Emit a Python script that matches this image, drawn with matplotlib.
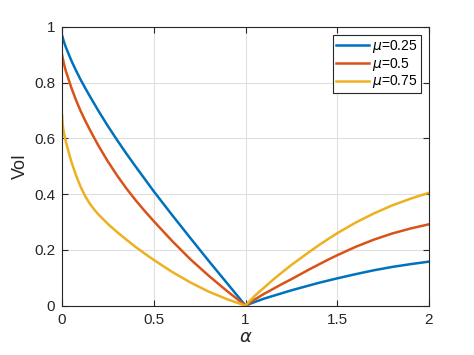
import matplotlib
matplotlib.use("Agg")
import matplotlib.pyplot as plt

# values (left branch: alpha in [0, 1], right branch: alpha in [1, 2])
alpha_left = [0.0, 0.0025, 0.005, 0.01, 0.02, 0.025, 0.03, 0.04, 0.05, 0.075, 0.1, 0.125, 0.15,
              0.175, 0.2, 0.25, 0.3, 0.35, 0.4, 0.45, 0.5, 0.6, 0.7, 0.8, 0.9, 1.0]
voi_025_left = [0.97, 0.964, 0.958, 0.947, 0.928, 0.92, 0.912, 0.896, 0.88, 0.845, 0.812, 0.782, 0.753,
                0.725, 0.697, 0.644, 0.594, 0.546, 0.5, 0.455, 0.41, 0.325, 0.242, 0.16, 0.08, 0.0]
voi_05_left = [0.90, 0.891, 0.884, 0.868, 0.843, 0.833, 0.823, 0.803, 0.783, 0.739, 0.70, 0.665, 0.633,
               0.602, 0.572, 0.517, 0.467, 0.421, 0.379, 0.34, 0.303, 0.232, 0.166, 0.107, 0.052, 0.0]
voi_075_left = [0.683, 0.655, 0.64, 0.62, 0.59, 0.577, 0.565, 0.541, 0.518, 0.469, 0.428, 0.394, 0.367,
                0.345, 0.326, 0.293, 0.264, 0.237, 0.211, 0.187, 0.164, 0.121, 0.083, 0.05, 0.023, 0.0]

alpha_right = [1.0, 1.025, 1.05, 1.075, 1.1, 1.15, 1.2, 1.25, 1.3, 1.35, 1.4, 1.45, 1.5,
               1.6, 1.7, 1.8, 1.9, 2.0]
voi_025_right = [0.0, 0.007, 0.013, 0.019, 0.025, 0.035, 0.045, 0.055, 0.064, 0.073, 0.082, 0.09, 0.098,
                 0.113, 0.127, 0.139, 0.149, 0.158]
voi_05_right = [0.0, 0.011, 0.022, 0.032, 0.042, 0.06, 0.078, 0.095, 0.113, 0.131, 0.148, 0.165, 0.181,
                0.211, 0.237, 0.259, 0.277, 0.292]
voi_075_right = [0.0, 0.018, 0.035, 0.05, 0.064, 0.093, 0.12, 0.146, 0.17, 0.194, 0.217, 0.239, 0.26,
                 0.298, 0.331, 0.36, 0.384, 0.405]

labels = [r"$\mu$=0.25", r"$\mu$=0.5", r"$\mu$=0.75"]
colors = ["#0072BD", "#D95319", "#EDB120"]

plt.rcParams["font.family"] = ["Liberation Sans", "DejaVu Sans"]

fig = plt.figure(figsize=(4.74, 3.55), dpi=100)
ax = fig.add_axes([0.131, 0.139, 0.774, 0.785])

series = [
    (voi_025_left, voi_025_right),
    (voi_05_left, voi_05_right),
    (voi_075_left, voi_075_right),
]
for (left, right), label, color in zip(series, labels, colors):
    ax.plot(alpha_left + alpha_right[1:], left + right[1:], color=color, lw=1.8,
            solid_joinstyle="round", label=label)

ax.set_xlim(0, 2)
ax.set_ylim(0, 1)
ax.set_xticks([0, 0.5, 1, 1.5, 2])
ax.set_xticklabels(["0", "0.5", "1", "1.5", "2"])
ax.set_yticks([0, 0.2, 0.4, 0.6, 0.8, 1])
ax.set_yticklabels(["0", "0.2", "0.4", "0.6", "0.8", "1"])
ax.grid(True, color="#dfdfdf", lw=0.8)
ax.set_axisbelow(True)
ax.tick_params(direction="in", top=True, right=True, length=4, width=0.8,
               labelsize=11, colors="#262626", pad=5)
for sp in ax.spines.values():
    sp.set_color("#262626")
    sp.set_linewidth(0.8)

ax.set_xlabel(r"$\alpha$", fontsize=13, color="#262626", labelpad=2)
ax.set_ylabel("VoI", fontsize=13, color="#262626", labelpad=4)

leg = ax.legend(loc="upper right", fontsize=10, handlelength=2.35, borderaxespad=0.6,
                fancybox=False, framealpha=1, edgecolor="#262626",
                borderpad=0.2, labelspacing=0.05, handletextpad=0.25)
leg.get_frame().set_linewidth(0.8)

fig.savefig("out.png", dpi=100)
